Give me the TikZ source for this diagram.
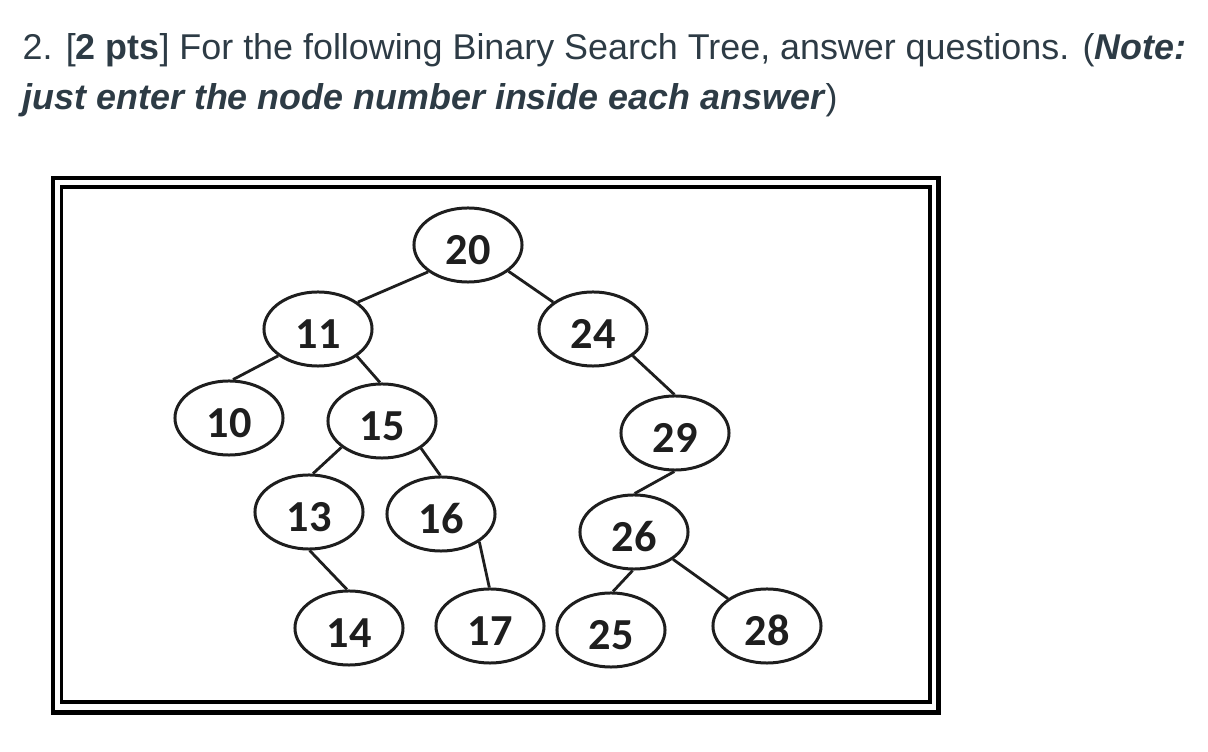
\documentclass[tikz,border=0pt]{standalone}
\usepackage{fontspec}
\setmainfont{Liberation Sans}
\newfontfamily\keyfont{Carlito}
\usetikzlibrary{shapes.geometric}
\definecolor{qgray}{HTML}{2D3B45}
\definecolor{treeblack}{HTML}{1E1E1E}

\tikzset{
  bst/.style={draw=treeblack, ellipse, line width=0.85pt, minimum width=1.08cm,
    minimum height=0.74cm, inner sep=0pt, text height=0.38cm, text depth=0pt,
    text=treeblack, font=\keyfont\bfseries\fontsize{12.6}{14}\selectfont},
  link/.style={draw=treeblack, line width=0.8pt},
  qline/.style={anchor=base west, inner sep=0pt, text=qgray,
    font=\fontsize{10.2}{12}\selectfont}
}

\begin{document}
\begin{tikzpicture}[x=0.01cm, y=-0.01cm]
  \useasboundingbox (0,0) rectangle (1208,752);
  \node[qline] (q1) at (22,60) {2. [\textbf{2 pts}] For the following Binary Search Tree, answer questions. (\textbf{\textit{Note:}}};
  \node[qline] (q2) at (22,110) {\textbf{\textit{just enter the node number inside each answer}})};

  \draw[line width=1.3pt] (53,178) rectangle (938.5,712.5);
  \draw[line width=0.95pt] (61.7,187) rectangle (930,702);

  \foreach \val/\px/\py in {20/468/245, 11/318/329, 24/593/329, 10/229/418,
      15/382/421, 29/675/433, 13/309/512, 16/441/514, 26/634/532,
      14/349/628, 17/490/626, 25/611/630, 28/767/626}
    \node[bst] (n\val) at (\px,\py) {\val};

  \foreach \a/\sa/\b/\sb in {20/214/11/34, 20/327/24/146, 11/214/10/84,
      11/325/15/93, 24/326/29/91, 15/213/13/84, 15/325/16/91, 29/269/26/89,
      13/271/14/93, 16/324/17/91, 26/268/25/87, 26/325/28/145}
    \draw[link] (n\a.\sa) -- (n\b.\sb);
\end{tikzpicture}
\end{document}
